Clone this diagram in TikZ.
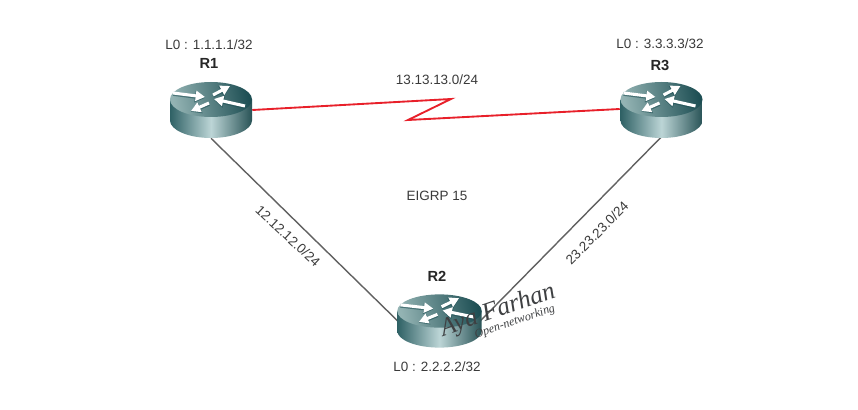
\documentclass[tikz,border=0pt]{standalone}
\usepackage{fontspec}
\setmainfont{Liberation Sans}
\newfontfamily\wmfont{Liberation Serif}
\usetikzlibrary{arrows.meta}
\definecolor{txt}{HTML}{3A3A3A}
\definecolor{rdark}{HTML}{2F6165}
\definecolor{rlight}{HTML}{BCD5D6}
\definecolor{tlight}{HTML}{93B3B3}
\definecolor{tdark}{HTML}{1E4F54}
\definecolor{wm}{HTML}{3E4042}
\definecolor{redlink}{HTML}{E8202A}
\tikzset{
  lbl/.style={text=txt,font=\fontsize{10.1pt}{12pt}\selectfont,inner sep=0pt},
  rname/.style={text=black!85,font=\fontsize{11pt}{13pt}\selectfont\bfseries,inner sep=0pt},
  routerbox/.style={minimum width=61.5pt,minimum height=42pt,inner sep=0pt,draw=none},
  plainlink/.style={draw=black!62,line width=1.05pt},
  seriallink/.style={draw=redlink,line width=1.4pt,line join=miter},
  rarrow/.style={white,line width=2.3pt,-{Triangle[length=7pt,width=7.5pt]}},
  rshadow/.style={tdark,opacity=0.6,line width=3pt,-{Triangle[length=7.5pt,width=8.5pt]}},
  wmtext/.style={text=wm,rotate=19,inner sep=0pt},
}
\newcommand{\routerart}[2]{%
  \begin{scope}[shift={(#1)},#2]
    \shade[left color=rdark,right color=rdark!85!black,middle color=rlight]
      (-41,-10.5) -- (-41,10.5) .. controls (-41,20) and (-22.6,28) .. (0,28)
      .. controls (22.6,28) and (41,20) .. (41,10.5) -- (41,-10.5) -- cycle;
    \shade[left color=tlight,right color=tdark,shading angle=100]
      (0,-10.5) ellipse (41 and 17.5);
    \foreach \ax/\ay/\bx/\by in {-38/-17/-6/-13, 2/-15/19/-24, -2/-7/-20/1, 34/-4/3/-11}{
      \draw[rshadow] (\ax,\ay+0.8) -- (\bx,\by+0.8);
      \draw[rarrow] (\ax,\ay) -- (\bx,\by);
    }
  \end{scope}}
\begin{document}
\begin{tikzpicture}[x=0.75pt,y=-0.75pt]
  \useasboundingbox[fill=white] (0,0) rectangle (858,410);
  \node[routerbox] (R1) at (211,110) {};
  \node[routerbox] (R2) at (439,321) {};
  \node[routerbox] (R3) at (661,109) {};
  \coordinate (zA) at (451,99);
  \coordinate (zB) at (408,120);
  \draw[plainlink] (R1.south) -- (R2.west);
  \draw[plainlink] (R3.south) -- (R2.east);
  \draw[seriallink] (R1.east) -- (zA) -- (zB) -- (R3.west);
  \routerart{211,110}{}
  \routerart{439.5,321}{xscale=1.03,yscale=0.95}
  \routerart{661.5,110}{}
  \node[lbl] (l1) at (209,45) {L0 : 1.1.1.1/32};
  \node[rname] (n1) at (209,63) {R1};
  \node[lbl] (l3) at (660,44) {L0 : 3.3.3.3/32};
  \node[rname] (n3) at (660,65) {R3};
  \node[rname] (n2) at (437,276) {R2};
  \node[lbl] (l2) at (437,367) {L0 : 2.2.2.2/32};
  \node[lbl] (s13) at (437,80) {13.13.13.0/24};
  \node[lbl] (eigrp) at (437,196) {EIGRP 15};
  \node[lbl,rotate=-43] (s12) at (288,236) {12.12.12.0/24};
  \node[lbl,rotate=45] (s23) at (597,233) {23.23.23.0/24};
  \node[wmtext,font=\wmfont\itshape\fontsize{19pt}{20pt}\selectfont] (wm1) at (498,311) {Aya Farhan};
  \node[wmtext,font=\wmfont\itshape\fontsize{9pt}{10pt}\selectfont] (wm2) at (515,322) {Open-networking};
\end{tikzpicture}
\end{document}
